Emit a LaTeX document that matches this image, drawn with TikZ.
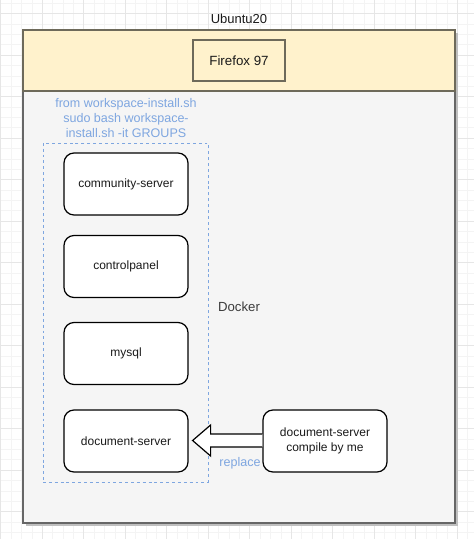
\documentclass[tikz,border=0pt]{standalone}
\usepackage{fontspec}
\setmainfont{Liberation Sans}
\usetikzlibrary{calc}
\definecolor{yel}{HTML}{FFF2CC}
\definecolor{hdrline}{HTML}{6E6A5A}
\definecolor{bodyfill}{HTML}{F5F5F5}
\definecolor{bodyline}{HTML}{666666}
\definecolor{bluetxt}{HTML}{7EA6E0}
\definecolor{txt}{HTML}{1A1A1A}
\definecolor{gridminor}{HTML}{F4F4F4}
\definecolor{gridmajor}{HTML}{E6E6E6}
\tikzset{
  plainbox/.style={draw=black, line width=0.9pt, fill=white, rounded corners=7.5pt,
    minimum width=93pt, minimum height=46.5pt, inner sep=0pt, align=center,
    text=txt, font=\fontsize{9}{11.5}\selectfont},
  bluelabel/.style={text=bluetxt, align=center, inner sep=0pt, font=\fontsize{9.4}{11.25}\selectfont},
}
\begin{document}
\begin{tikzpicture}[x=0.75pt,y=-0.75pt]
\useasboundingbox (0,0) rectangle (474,539);
\fill[white] (0,0) rectangle (474,539);
% background grid
\foreach \i in {0,...,46} {
  \draw[gridminor, line width=0.5pt] ({0.8+\i*10.375},0) -- ({0.8+\i*10.375},539);
}
\foreach \i in {0,...,52} {
  \draw[gridminor, line width=0.5pt] (0,{3.3+\i*10.375}) -- (474,{3.3+\i*10.375});
}
\foreach \i in {0,...,11} {
  \draw[gridmajor, line width=0.5pt] ({0.8+\i*41.5},0) -- ({0.8+\i*41.5},539);
}
\foreach \i in {0,...,13} {
  \draw[gridmajor, line width=0.5pt] (0,{13.7+\i*41.5}) -- (474,{13.7+\i*41.5});
}
% shadow of container
\fill[black!25] (26,33) rectangle (458,526);
% container body
\node[draw=bodyline, fill=bodyfill, line width=0.9pt, minimum width=324pt, minimum height=369.75pt, inner sep=0pt] (ubuntu) at (239,276.5) {};
\node[draw=hdrline, fill=yel, line width=0.9pt, minimum width=324pt, minimum height=45.75pt, inner sep=0pt] (header) at (239,60.5) {};
\node[text=txt, inner sep=0pt, font=\fontsize{9.75}{12}\selectfont] (ubuntulbl) at (239,19) {Ubuntu20};
\node[draw=hdrline, fill=yel, line width=0.9pt, minimum width=69pt, minimum height=30.75pt, inner sep=0pt, text=txt, font=\fontsize{10}{12}\selectfont] (firefox) at (239,60.5) {Firefox 97};
% install note
\node[bluelabel] (note) at (126,118) {from workspace-install.sh\\sudo bash workspace-\\install.sh -it GROUPS};
% dashed group
\node[draw=bluetxt, dash pattern=on 2.2pt off 2.2pt, line width=0.75pt, minimum width=123.75pt, minimum height=254.25pt, inner sep=0pt] (group) at (125.5,312.5) {};
% boxes
\node[plainbox] (community) at (126,184) {community-server};
\node[plainbox] (control) at (126,266.5) {controlpanel};
\node[plainbox] (mysql) at (126,353.5) {mysql};
\node[plainbox] (docserver) at (126,441) {document-server};
\node[plainbox] (mydoc) at (325,441) {document-server\\compile by me};
\node[text=txt!85, inner sep=0pt, font=\fontsize{9.9}{12}\selectfont] (docker) at (239,307) {Docker};
% big hollow arrow
\coordinate (tip) at ($(docserver.east)+(4,-0.5)$);
\draw[black, line width=0.9pt, fill=white, line join=miter]
  ($(mydoc.west)+(0,-7)$) -- ($(tip)+(18,-6.5)$) -- ($(tip)+(18,-15.5)$) -- (tip)
  -- ($(tip)+(18,15.5)$) -- ($(tip)+(18,6.5)$) -- ($(mydoc.west)+(0,6)$);
\node[bluelabel] (replace) at (240,463) {replace};
\end{tikzpicture}
\end{document}
